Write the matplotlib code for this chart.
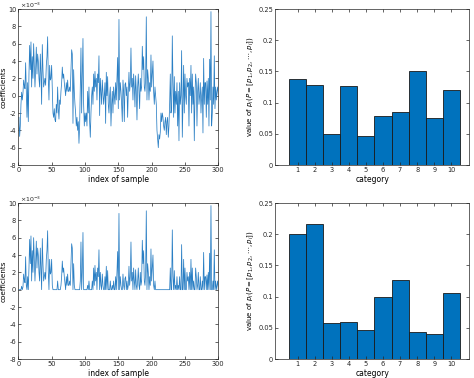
import matplotlib.pyplot as plt
from matplotlib.ticker import FuncFormatter
import numpy as np

# coefficients (in units of 1e-3)
coef = [
    -2.5, -4.7, -3.5, -1.0, 0.4, -0.5, 0.3, 1.8, 1.2, 0.8,
    3.8, 0.5, -2.5, 1.5, -3.0, 2.5, 5.8, 3.0, 6.2, 1.0,
    4.5, 2.0, 6.0, 3.5, 1.0, 3.0, 5.6, 2.5, 4.8, 4.0,
    2.0, 1.0, 4.8, 2.5, -1.0, 5.9, 3.0, 1.0, 1.5, 2.0,
    1.2, 3.5, 4.5, 6.8, 2.0, -0.5, 3.5, 1.8, 2.0, 3.5,
    0.5, -2.0, -2.5, -1.5, -2.8, -3.0, -1.0, -2.0, 1.0, -1.5,
    -2.7, -0.5, -1.0, 0.5, 1.5, 3.3, 2.0, 2.5, 1.5, 0.8,
    0.0, 1.5, 0.5, 1.8, 0.5, 0.5, 1.0, 0.5, 3.0, 5.3,
    4.8, -3.2, 3.0, 0.5, -1.0, -2.0, -3.5, -2.5, -4.0, -3.0,
    -5.5, -3.5, 1.0, 5.5, -2.0, 2.0, 6.6, -1.0, -3.5, -2.0,
    -3.0, -2.0, -3.5, 0.5, -2.0, 1.0, -3.0, -4.8, -2.0, 0.0,
    1.0, -1.0, 2.5, 0.5, 2.8, 1.0, 2.0, -0.5, 2.5, 1.5,
    4.6, -2.3, 2.0, 0.5, -1.0, 1.8, 0.5, -1.0, 0.0, 1.5,
    -3.2, 2.7, 0.0, 2.2, -1.0, -2.0, 0.0, 1.0, -3.5, -1.0,
    0.5, -2.0, 1.0, 0.0, -1.0, 1.5, -0.5, 2.0, 4.4, -1.5,
    8.8, -0.5, 1.5, 0.5, -1.0, -3.0, 1.8, 0.5, -3.0, 1.3,
    1.5, 0.0, 1.0, -2.5, 0.5, 2.7, 0.5, 1.5, 5.5, 1.0,
    2.0, -0.5, 2.5, 1.0, -1.3, 2.3, 0.5, -2.8, 1.0, 2.5,
    0.5, -1.5, 2.0, 0.5, 1.0, 5.7, 3.0, 4.5, 1.0, 0.5,
    2.0, 9.1, -0.5, 3.0, 2.0, -0.5, 1.5, 0.5, 4.7, 1.0,
    2.5, 4.0, 0.5, -1.0, 1.0, 0.0, -1.0, -4.0, -5.0, -6.0,
    -4.5, -5.0, -4.2, -2.0, -3.0, -2.0, -2.5, -3.5, -4.0, -3.0,
    -2.5, -4.5, -3.0, -2.5, -4.8, -3.5, -1.0, 2.5, -2.0, -1.5,
    6.9, 1.5, -2.5, 2.2, -2.0, 0.5, -1.0, 1.5, -3.5, 0.5,
    -5.2, 1.5, -1.0, 0.0, 5.2, -4.8, -1.0, 3.5, -2.0, 2.5,
    0.0, -1.0, 2.0, 1.0, 1.5, -3.5, 2.0, 0.0, 3.5, -2.0,
    2.5, -1.0, 1.0, -5.2, 0.0, 2.5, 1.5, -3.5, 0.5, 2.0,
    -1.0, 0.0, 1.5, -2.0, 0.0, 1.0, -4.3, 4.3, -1.0, 1.5,
    1.5, -2.5, 1.7, -1.0, 2.0, -3.5, 4.2, -0.5, 9.7, -3.5,
    -2.0, 1.0, -1.0, 4.6, -1.5, 1.0, -0.5, 0.5, 1.0, 0.0,
]

categories = [1, 2, 3, 4, 5, 6, 7, 8, 9, 10]
p_top = [0.138, 0.128, 0.050, 0.126, 0.046, 0.079, 0.085, 0.150, 0.075, 0.120]
p_bottom = [0.201, 0.217, 0.057, 0.060, 0.046, 0.099, 0.126, 0.044, 0.040, 0.105]

coef = np.array(coef) * 1e-3
coef_pos = np.maximum(coef, 0)   # bottom panel: negative part removed
idx = np.arange(1, len(coef) + 1)

blue = "#0072BD"
plt.rcParams["font.family"] = "DejaVu Sans"
plt.rcParams["font.size"] = 4.8

fig = plt.figure(figsize=(4.74, 3.78), dpi=100)
W, H = 474, 378

def add_ax(l, t, r, b):
    return fig.add_axes([l / W, 1 - b / H, (r - l) / W, (b - t) / H])

def matlab_style(ax):
    ax.tick_params(direction="in", top=True, right=True, length=2,
                   width=0.5, labelsize=4.8, pad=1.5, colors="#262626")
    for s in ax.spines.values():
        s.set_linewidth(0.5)
        s.set_color("#262626")

ylab_p = r"value of $p_i$($P=[p_1,p_2,\cdots,p_i]$)"

for row, (series, pvals) in enumerate([(coef, p_top), (coef_pos, p_bottom)]):
    t = 9 if row == 0 else 203
    b = 165 if row == 0 else 359

    ax = add_ax(18.3, t, 218.3, b)
    ax.plot(idx, series, color="#2a7fc4", linewidth=0.55)
    ax.set_xlim(0, 300)
    ax.set_ylim(-8e-3, 10e-3)
    ax.set_xticks(range(0, 301, 50))
    ax.set_yticks(np.arange(-8, 11, 2) * 1e-3)
    ax.yaxis.set_major_formatter(FuncFormatter(lambda v, p: "%g" % round(v * 1e3, 6)))
    fig.text(19.5 / W, 1 - (t - 1.5) / H, r"$\times10^{-3}$",
             fontsize=4.5, color="#262626", va="baseline")
    ax.set_xlabel("index of sample", fontsize=5.5, labelpad=1.5)
    ax.set_ylabel("coefficients", fontsize=5.2)
    ax.yaxis.set_label_coords(-0.056, 0.5)
    matlab_style(ax)

    ax2 = add_ax(275.3, t, 469.3, b)
    ax2.bar(categories, pvals, width=1.0, color=blue, edgecolor="#1a1a1a",
            linewidth=0.6)
    ax2.set_xlim(-0.3, 11.05)
    ax2.set_ylim(0, 0.25)
    ax2.set_xticks(categories)
    ax2.set_yticks([0, 0.05, 0.1, 0.15, 0.2, 0.25])
    ax2.set_yticklabels(["0", "0.05", "0.1", "0.15", "0.2", "0.25"])
    ax2.set_xlabel("category", fontsize=5.5, labelpad=1.5)
    ax2.set_ylabel(ylab_p, fontsize=5, labelpad=2)
    matlab_style(ax2)

fig.savefig("out.png", dpi=100)
